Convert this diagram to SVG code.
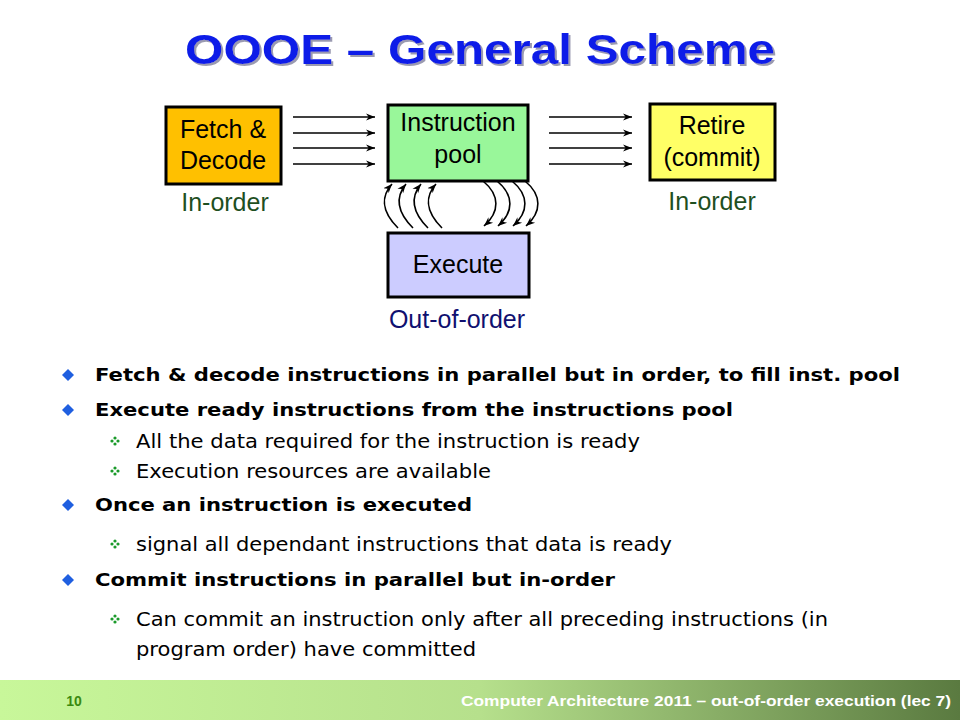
<svg xmlns="http://www.w3.org/2000/svg" width="960" height="720" viewBox="0 0 960 720">
<defs>
<linearGradient id="ft" x1="0" x2="1" y1="0" y2="0"><stop offset="0" stop-color="#c8f79a"/><stop offset="0.5" stop-color="#b6e08c"/><stop offset="1" stop-color="#5a7a40"/></linearGradient>
<filter id="sh" x="-5%" y="-20%" width="110%" height="140%"><feDropShadow dx="2" dy="2" stdDeviation="0.5" flood-color="#9a9ab0"/></filter>
<marker id="ah" viewBox="0 0 10 10" refX="10" refY="5" markerWidth="9" markerHeight="9" markerUnits="userSpaceOnUse" orient="auto"><path d="M0,1 L10,5 L0,9 L3,5 Z" fill="#000"/></marker>
<style>
.box{stroke:#000;stroke-width:3}
.bt{font-family:"Liberation Sans",Arial,sans-serif;font-size:25px;text-anchor:middle;fill:#000}
.lbl{font-family:"Liberation Sans",Arial,sans-serif;font-size:25px;text-anchor:middle}
.c{fill:none;stroke:#000;stroke-width:1.6;marker-end:url(#ah)}
.b1{font-family:"DejaVu Sans",Verdana,sans-serif;font-weight:bold;font-size:18px;fill:#000}
.b2{font-family:"DejaVu Sans",Verdana,sans-serif;font-size:19px;fill:#000}
.d{fill:#1f5fe0}
.s{fill:#1a9a2a}
</style>
</defs>
<rect width="960" height="720" fill="#fff"/>
<text x="480" y="64" font-family="Liberation Sans,Arial,sans-serif" font-weight="bold" font-size="42" text-anchor="middle" fill="#0a1ee8" filter="url(#sh)" textLength="590" lengthAdjust="spacingAndGlyphs">OOOE – General Scheme</text>
<g id="fetch"><rect class="box" x="166" y="107" width="115" height="77" fill="#ffc000"/><text class="bt" x="223" y="138">Fetch &amp;</text><text class="bt" x="223" y="169">Decode</text></g>
<g id="pool"><rect class="box" x="388" y="105" width="140" height="76" fill="#99f79a"/><text class="bt" x="458" y="131">Instruction</text><text class="bt" x="458" y="163">pool</text></g>
<g id="retire"><rect class="box" x="650" y="104" width="125" height="76" fill="#ffff66"/><text class="bt" x="712" y="134">Retire</text><text class="bt" x="712" y="166">(commit)</text></g>
<g id="execute"><rect class="box" x="388" y="233" width="141" height="64" fill="#ccccff"/><text class="bt" x="458" y="273">Execute</text></g>
<text class="lbl" x="225" y="211" fill="#1f4f1f">In-order</text>
<text class="lbl" x="712" y="210" fill="#1f4f1f">In-order</text>
<text class="lbl" x="457" y="328" fill="#101070">Out-of-order</text>
<g id="connectors">
<path class="c" d="M293,117 H375"/><path class="c" d="M293,133 H375"/><path class="c" d="M293,148 H375"/><path class="c" d="M293,164 H375"/>
<path class="c" d="M549,117 H632"/><path class="c" d="M549,133 H632"/><path class="c" d="M549,148 H632"/><path class="c" d="M549,164 H632"/>
<path class="c" d="M398,228 C380,210 382,195 392,184"/>
<path class="c" d="M413,228 C395,210 397,195 406,184"/>
<path class="c" d="M428,228 C410,210 412,195 421,184"/>
<path class="c" d="M442,228 C424,210 426,195 436,184"/>
<path class="c" d="M483,181 C500,195 500,212 484,226"/>
<path class="c" d="M497,181 C514,195 514,212 498,226"/>
<path class="c" d="M512,181 C529,195 529,212 513,226"/>
<path class="c" d="M525,181 C542,195 542,212 526,226"/>
</g>
<g id="bullets">
<path class="d" d="M68,369 L74,375 L68,381 L62,375 Z"/>
<text class="b1" x="95" y="381" textLength="805" lengthAdjust="spacingAndGlyphs">Fetch &amp; decode instructions in parallel but in order, to fill inst. pool</text>
<path class="d" d="M68,404 L74,410 L68,416 L62,410 Z"/>
<text class="b1" x="95" y="416" textLength="638" lengthAdjust="spacingAndGlyphs">Execute ready instructions from the instructions pool</text>
<g class="s"><circle cx="115" cy="438" r="1.6"/><circle cx="115" cy="444" r="1.6"/><circle cx="112" cy="441" r="1.6"/><circle cx="118" cy="441" r="1.6"/></g>
<text class="b2" x="136" y="448" textLength="504" lengthAdjust="spacingAndGlyphs">All the data required for the instruction is ready</text>
<g class="s"><circle cx="115" cy="468" r="1.6"/><circle cx="115" cy="474" r="1.6"/><circle cx="112" cy="471" r="1.6"/><circle cx="118" cy="471" r="1.6"/></g>
<text class="b2" x="136" y="478" textLength="355" lengthAdjust="spacingAndGlyphs">Execution resources are available</text>
<path class="d" d="M68,499 L74,505 L68,511 L62,505 Z"/>
<text class="b1" x="95" y="511" textLength="377" lengthAdjust="spacingAndGlyphs">Once an instruction is executed</text>
<g class="s"><circle cx="115" cy="541" r="1.6"/><circle cx="115" cy="547" r="1.6"/><circle cx="112" cy="544" r="1.6"/><circle cx="118" cy="544" r="1.6"/></g>
<text class="b2" x="136" y="551" textLength="536" lengthAdjust="spacingAndGlyphs">signal all dependant instructions that data is ready</text>
<path class="d" d="M68,574 L74,580 L68,586 L62,580 Z"/>
<text class="b1" x="95" y="586" textLength="520" lengthAdjust="spacingAndGlyphs">Commit instructions in parallel but in-order</text>
<g class="s"><circle cx="115" cy="616" r="1.6"/><circle cx="115" cy="622" r="1.6"/><circle cx="112" cy="619" r="1.6"/><circle cx="118" cy="619" r="1.6"/></g>
<text class="b2" x="136" y="626" textLength="692" lengthAdjust="spacingAndGlyphs">Can commit an instruction only after all preceding instructions (in</text>
<text class="b2" x="136" y="656" textLength="340" lengthAdjust="spacingAndGlyphs">program order) have committed</text>
</g>
<rect x="0" y="680" width="960" height="40" fill="url(#ft)"/>
<text x="74" y="706" font-family="Liberation Sans,Arial,sans-serif" font-weight="bold" font-size="14" fill="#3a8a10" text-anchor="middle">10</text>
<text x="951" y="706" font-family="Liberation Sans,Arial,sans-serif" font-weight="bold" font-size="14" fill="#fff" text-anchor="end" textLength="490" lengthAdjust="spacingAndGlyphs">Computer Architecture 2011 – out-of-order execution (lec 7)</text>
</svg>
